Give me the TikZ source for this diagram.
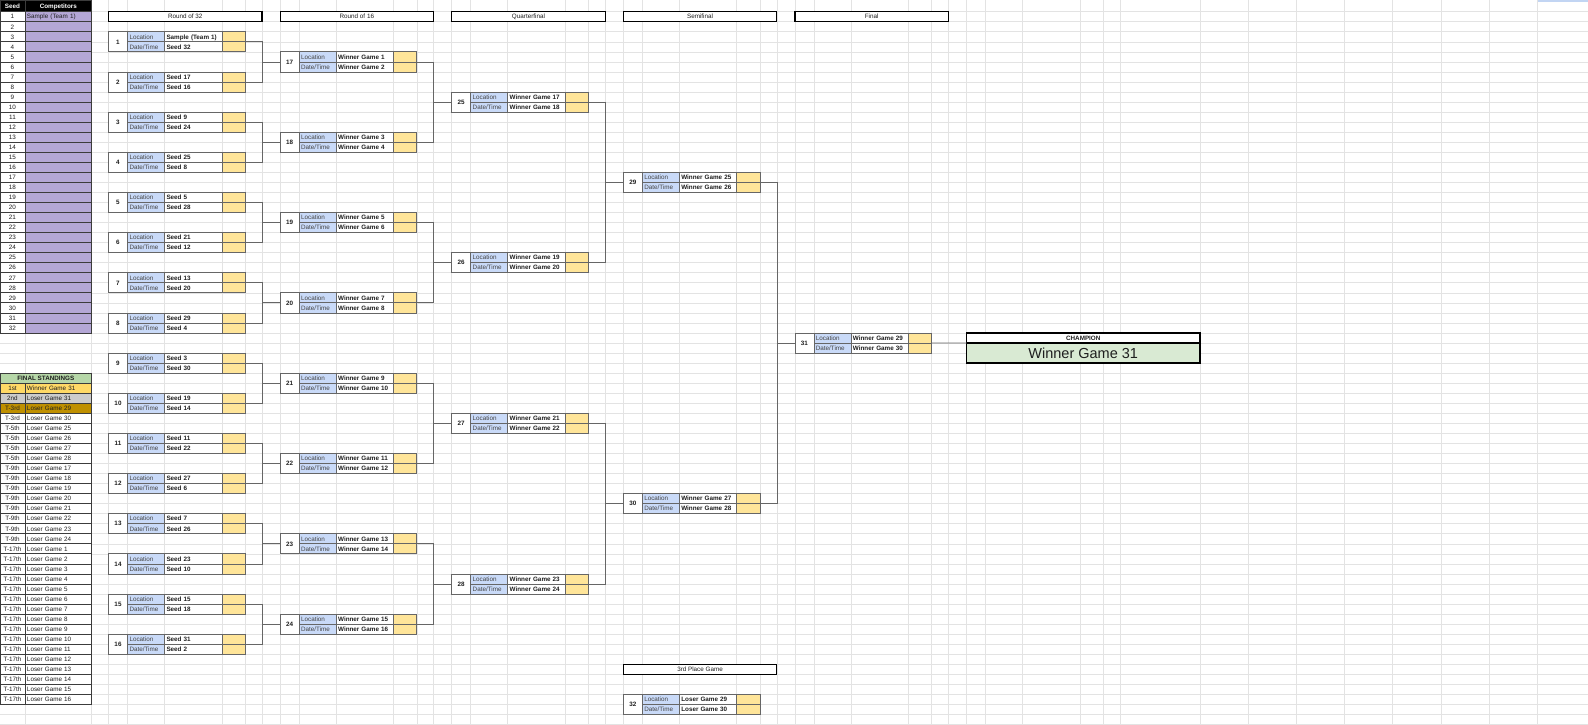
\documentclass[tikz,border=0pt]{standalone}
\usepackage{fontspec}
\setmainfont{Liberation Sans}
\definecolor{locblue}{HTML}{C9DAF8}
\definecolor{scoreyel}{HTML}{FFE599}
\definecolor{seedpurple}{HTML}{B4A7D6}
\definecolor{standgreen}{HTML}{B6D7A8}
\definecolor{champgreen}{HTML}{D9EAD3}
\definecolor{firstyel}{HTML}{FFD966}
\definecolor{secondgray}{HTML}{CCCCCC}
\definecolor{thirdgold}{HTML}{BF9000}
\definecolor{gridgray}{HTML}{E3E3E3}
\definecolor{cellline}{HTML}{666666}
\definecolor{listline}{HTML}{3C3C3C}
\definecolor{ink}{HTML}{1E1E1E}
\definecolor{labelgray}{HTML}{454545}
\definecolor{selblue}{HTML}{C2D5F3}
\begin{document}
\begin{tikzpicture}[
  x = 1pt, y = -1pt,
  every node/.style = {anchor = north west, inner sep = 0pt, outer sep = 0pt,
                       text = ink, font = \fontsize{6.3}{7.5}\selectfont,
                       text height = 4.5pt, text depth = 0pt},
  grid line/.style = {draw = gridgray, line width = 0.6pt},
  cell/.style = {draw = cellline, line width = 0.75pt, fill = white, minimum height = 10.04pt},
  numcell/.style = {cell, minimum width = 19pt, minimum height = 20.08pt,
                    font = \fontsize{6.3}{7.5}\selectfont\bfseries},
  loccell/.style = {cell, fill = locblue, text = labelgray, text width = 33pt,
                    inner xsep = 2pt, align = left},
  teamcell/.style = {cell, text width = 53.4pt, inner xsep = 2pt, align = left,
                     font = \fontsize{6.3}{7.5}\selectfont\bfseries},
  scorecell/.style = {cell, fill = scoreyel, minimum width = 23.3pt},
  gamebox/.style = {minimum width = 136.7pt, minimum height = 20.08pt},
  link/.style = {draw = cellline, line width = 0.75pt},
  roundhead/.style = {draw = black, line width = 1.2pt, fill = white,
                      minimum width = 153.5pt, minimum height = 10.04pt},
  listhead/.style = {draw = listline, line width = 0.75pt, fill = black, text = white,
                     minimum height = 11.7pt, font = \fontsize{6.3}{7.5}\selectfont\bfseries},
  rankcell/.style = {draw = listline, line width = 0.75pt, fill = white,
                     minimum width = 25pt, minimum height = 10.04pt},
  namecell/.style = {draw = listline, line width = 0.75pt, fill = white,
                     text width = 62.7pt, inner xsep = 2pt, align = left,
                     minimum height = 10.04pt},
  standhead/.style = {draw = listline, line width = 0.75pt, fill = standgreen,
                      minimum width = 91.7pt, minimum height = 10.04pt,
                      font = \fontsize{6.3}{7.5}\selectfont\bfseries},
  champhead/.style = {draw = black, line width = 1.6pt, fill = white,
                      minimum width = 233.5pt, minimum height = 10.04pt,
                      font = \fontsize{6.3}{7.5}\selectfont\bfseries},
  champcell/.style = {draw = black, line width = 1.6pt, fill = champgreen,
                      minimum width = 233.5pt, minimum height = 20.08pt,
                      font = \fontsize{14.5}{16}\selectfont, text height = 10.4pt},
  ]
  \useasboundingbox (0,0) rectangle (1588,725);
  \fill[white] (0,0) rectangle (1588,725);

  \foreach \n in {0,...,71}
    \draw[grid line] (0,11.7+10.04*\n) -- (1588,11.7+10.04*\n);
  \foreach \x in {25,91.7,1200,1248.3,1296.5,1344.5,1392.5,1441,1489.5,1537.5}
    \draw[grid line] (\x,0) -- (\x,725);
  \foreach \k in {0,...,5}
    \foreach \dx in {0,19,56,113.4,136.7,153.5}
      \draw[grid line] (108.5+171.6*\k+\dx,0) -- (108.5+171.6*\k+\dx,725);
  \fill[selblue] (1537.5,0) rectangle (1588,1.6);

  \node[listhead, minimum width = 25pt] (seedhead) at (0,0) {Seed};
  \node[listhead, minimum width = 66.7pt] (comphead) at (25,0) {Competitors};
  \foreach \r in {1,...,32} {
    \pgfmathsetmacro\ty{11.7+10.04*(\r-1)}
    \node[rankcell] (s\r) at (0,\ty) {\r};
    \node[namecell, fill = seedpurple] (c\r) at (25,\ty) {\ifnum\r=1 Sample (Team 1)\fi};
  }

  \node[standhead] (standhead) at (0,373.1) {FINAL STANDINGS};
  \foreach \r/\rk/\who/\bg in {38/1st/Winner Game 31/firstyel, 39/2nd/Loser Game 31/secondgray,
                               40/T-3rd/Loser Game 29/thirdgold, 41/T-3rd/Loser Game 30/white} {
    \pgfmathsetmacro\ty{11.7+10.04*(\r-1)}
    \node[rankcell, fill = \bg] (rank\r) at (0,\ty) {\rk};
    \node[namecell, fill = \bg] (who\r) at (25,\ty) {\who};
  }
  \foreach \first/\last/\shift/\rk in {25/28/17/T-5th, 17/24/29/T-9th, 1/16/53/T-17th}
    \foreach \g in {\first,...,\last} {
      \pgfmathtruncatemacro\r{\g+\shift}
      \pgfmathsetmacro\ty{11.7+10.04*(\r-1)}
      \node[rankcell] (rank\r) at (0,\ty) {\rk};
      \node[namecell] (who\r) at (25,\ty) {Loser Game \g};
    }

  \foreach \k/\title in {0/Round of 32, 1/Round of 16, 2/Quarterfinal, 3/Semifinal, 4/Final}
    \node[roundhead] (h\k) at (108.5+171.6*\k,11.7) {\title};
  \node[roundhead] (third) at (623.3,664.3) {3rd Place Game};

  \foreach \n/\k/\r/\ta/\tb in {
      1/0/3/{Sample (Team 1)}/Seed 32, 2/0/7/Seed 17/Seed 16,
      3/0/11/Seed 9/Seed 24, 4/0/15/Seed 25/Seed 8,
      5/0/19/Seed 5/Seed 28, 6/0/23/Seed 21/Seed 12,
      7/0/27/Seed 13/Seed 20, 8/0/31/Seed 29/Seed 4,
      9/0/35/Seed 3/Seed 30, 10/0/39/Seed 19/Seed 14,
      11/0/43/Seed 11/Seed 22, 12/0/47/Seed 27/Seed 6,
      13/0/51/Seed 7/Seed 26, 14/0/55/Seed 23/Seed 10,
      15/0/59/Seed 15/Seed 18, 16/0/63/Seed 31/Seed 2,
      17/1/5/Winner Game 1/Winner Game 2, 18/1/13/Winner Game 3/Winner Game 4,
      19/1/21/Winner Game 5/Winner Game 6, 20/1/29/Winner Game 7/Winner Game 8,
      21/1/37/Winner Game 9/Winner Game 10, 22/1/45/Winner Game 11/Winner Game 12,
      23/1/53/Winner Game 13/Winner Game 14, 24/1/61/Winner Game 15/Winner Game 16,
      25/2/9/Winner Game 17/Winner Game 18, 26/2/25/Winner Game 19/Winner Game 20,
      27/2/41/Winner Game 21/Winner Game 22, 28/2/57/Winner Game 23/Winner Game 24,
      29/3/17/Winner Game 25/Winner Game 26, 30/3/49/Winner Game 27/Winner Game 28,
      31/4/33/Winner Game 29/Winner Game 30, 32/3/69/Loser Game 29/Loser Game 30} {
    \pgfmathsetmacro\bx{108.5+171.6*\k}
    \pgfmathsetmacro\ty{11.7+10.04*(\r-1)}
    \pgfmathsetmacro\tyb{\ty+10.04}
    \node[gamebox] (g\n) at (\bx,\ty) {};
    \node[numcell] (n\n) at (\bx,\ty) {\n};
    \node[loccell] (l\n) at (\bx+19,\ty) {Location};
    \node[loccell] (d\n) at (\bx+19,\tyb) {Date/Time};
    \node[teamcell] (a\n) at (\bx+56,\ty) {\ta};
    \node[teamcell] (b\n) at (\bx+56,\tyb) {\tb};
    \node[scorecell] (p\n) at (\bx+113.4,\ty) {};
    \node[scorecell] (q\n) at (\bx+113.4,\tyb) {};
  }

  \foreach \a/\b/\n in {1/2/17, 3/4/18, 5/6/19, 7/8/20, 9/10/21, 11/12/22, 13/14/23, 15/16/24,
                        17/18/25, 19/20/26, 21/22/27, 23/24/28, 25/26/29, 27/28/30, 29/30/31} {
    \draw[link] (g\a.east) -| ([xshift=-18pt]g\n.west) |- (g\b.east);
    \draw[link] ([xshift=-18pt]g\n.west) -- (g\n.west);
  }

  \node[champhead] (champhead) at (966.5,333) {CHAMPION};
  \node[champcell] (champ) at (966.5,343.04) {Winner Game 31};
  \draw[link] (g31.east) -- (champhead.south west);
\end{tikzpicture}
\end{document}
